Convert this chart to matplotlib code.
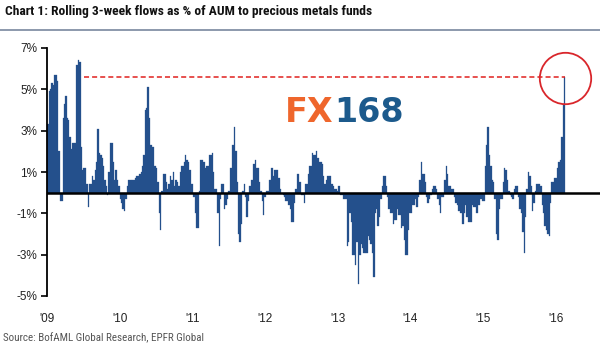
import numpy as np
import pandas as pd
import matplotlib
matplotlib.use('Agg')
import matplotlib.pyplot as plt
from matplotlib import font_manager

# rolling 3-week flows, % of AUM, one value per week
y2009 = [3.3, 4.9, 5.0, 5.3, 5.2, 5.7, 5.7, 5.4, 2.0, -0.4, -0.4, 3.6, 4.3, 4.7, 3.6, 3.5, 2.7, 2.1, 2.4, 2.4,
         2.4, 6.2, 6.4, 6.3, 2.2, 1.1, 1.2, 1.2, 0.4, -0.7, 0.4, 0.4, 0.8, 0.6, 1.1, 1.5, 3.1, 1.9, 1.8, 1.7,
         1.3, 0.6, 0.3, -0.1, 1.0, 2.4, 2.4, 1.5, 0.6, 1.1, 0.6, 0.3]
y2010 = [-0.3, -0.5, -0.8, -0.9, -0.3, 0.3, 0.6, 0.6, 0.6, 0.6, 0.6, 0.7, 0.8, 0.8, 0.9, 1.0, 1.3, 1.8, 4.0, 4.1,
         5.1, 3.6, 2.3, 2.2, 2.2, 1.3, 1.2, 0.5, -1.0, -1.8, 0.1, 0.9, 0.9, 0.5, 0.2, 0.4, 0.8, 0.6, 1.0, 0.3,
         0.6, 0.5, 0.3, 1.0, 1.3, 1.3, 1.5, 1.8, 1.6, 1.5, 1.1, 0.4]
y2011 = [0.4, -0.2, -1.0, -1.7, -1.7, 0.1, 1.6, 1.6, 1.5, 1.2, 1.3, 1.3, 1.8, 1.8, 1.9, 1.0, 0.2, 0.2, -1.0, -2.6,
         -0.3, 0.4, 0.4, -0.8, -0.6, -0.3, 0.1, 1.2, 1.2, 2.3, 3.2, 2.0, 0.5, -2.0, -2.4, -1.5, 0.1, 0.4, -0.2, -1.2,
         -0.4, 0.3, 0.6, 0.6, 1.4, 1.6, 1.2, 1.2, 0.5, 0.1, -0.4, -1.1]
y2012 = [-0.2, 0.1, 0.1, 0.6, 0.6, 1.2, 0.8, 1.1, 1.1, 1.1, 0.7, 0.2, 0.0, -0.1, -0.2, -0.4, -0.4, -0.6, -0.8, -1.4,
         -1.4, -0.5, 0.2, 0.9, 0.9, 0.5, -0.1, -0.1, -0.5, 0.4, 0.4, 0.9, 1.3, 1.3, 1.9, 1.8, 1.8, 2.0, 1.7, 1.5,
         1.5, 1.4, 0.8, 0.4, 0.6, 0.8, 0.8, 0.8, 0.4, 0.3, 0.2, 0.2]
y2013 = [0.1, 0.3, -0.1, -0.1, -0.3, -0.3, -0.3, -2.6, -2.4, -1.0, -1.4, -3.0, -3.0, -3.5, -2.4, -4.4, -3.0, -2.5, -2.7, -2.9,
         -2.9, -2.9, -2.1, -2.3, -2.5, -2.9, -4.1, -1.0, -0.8, -1.6, -1.2, -0.3, 0.3, 0.8, 0.8, 0.3, -0.2, -0.8, -1.0, -1.0,
         -1.5, -1.3, -1.3, -0.8, -1.1, -1.1, -1.7, -1.6, -2.3, -3.0, -3.0, -1.8]
y2014 = [-1.0, -1.0, -0.6, -0.6, -0.3, -0.7, -0.2, 0.6, 1.5, 0.9, 0.9, 0.5, -0.2, -0.5, -0.3, -0.1, 0.2, 0.3, 0.3, 0.2,
         -0.3, -0.6, -1.0, -0.2, -0.2, 0.6, 1.3, 0.9, 0.3, 0.3, 0.2, 0.2, -0.2, -0.5, -0.6, -0.9, -1.0, -1.0, -1.5, -1.0,
         -0.6, -1.2, -1.4, -1.4, -1.4, -0.6, -0.7, -0.7, -1.0, -0.6, -0.6, -0.3]
y2015 = [-0.4, -0.4, 1.3, 2.3, 3.2, 1.8, 1.3, 0.6, 0.5, -0.3, -2.0, -2.3, -0.8, -0.3, -0.3, 0.5, 1.2, 1.1, 0.6, 0.1,
         -0.1, -0.2, -0.3, 0.2, 0.3, 0.3, -0.2, -0.8, -1.0, -1.9, -2.9, -1.2, 0.2, 1.0, 0.8, 0.3, -0.9, -0.5, 0.1, 0.4,
         0.4, 0.4, 0.3, -0.6, -1.0, -1.6, -1.8, -2.0, -2.1, -0.5, 0.5, 0.5]
y2016 = [0.7, 0.7, 1.2, 1.5, 1.6, 2.7, 4.3, 5.6]

flows = y2009 + y2010 + y2011 + y2012 + y2013 + y2014 + y2015 + y2016
weeks = pd.date_range('2009-01-02', periods=len(flows), freq='7D')

year_ticks = pd.date_range('2009-01-01', '2016-01-01', freq='YS')
year_labels = ["'09", "'10", "'11", "'12", "'13", "'14", "'15", "'16"]
y_ticks = [-5, -3, -1, 1, 3, 5, 7]
ref_start = pd.Timestamp('2009-07-05')   # where the red reference line begins

title = 'Chart 1: Rolling 3-week flows as % of AUM to precious metals funds'
source = 'Source: BofAML Global Research, EPFR Global'

W, H = 600, 353


def pick_font(names):
    for n in names:
        try:
            font_manager.findfont(font_manager.FontProperties(family=n), fallback_to_default=False)
            return n
        except Exception:
            pass
    return 'DejaVu Sans'


narrow = pick_font(['Liberation Sans Narrow', 'DejaVu Sans Condensed', 'Roboto Condensed',
                    'Open Sans Condensed', 'Liberation Sans'])

fig = plt.figure(figsize=(W / 100, H / 100), dpi=100)
renderer = fig.canvas.get_renderer()


def fit_text(t, width_px, max_size):
    # shrink a text until it spans width_px
    w = t.get_window_extent(renderer).width
    t.set_fontsize(min(max_size, t.get_fontsize() * width_px / w))


t_title = fig.text(5 / W, 1 - 12 / H, title, ha='left', va='center', fontsize=10.5,
                   fontweight='bold', family=[narrow, 'DejaVu Sans'], color='#111111')
fit_text(t_title, 367, 10.5)
fig.add_artist(plt.Line2D([0, 1], [1 - 29.5 / H, 1 - 29.5 / H], color='#8391a6', lw=1.3))
t_src = fig.text(3 / W, 1 - 338 / H, source, ha='left', va='center', fontsize=8,
                 family=[narrow, 'DejaVu Sans'], color='#555555')
fit_text(t_src, 202, 8)

ax = fig.add_axes([47 / W, 1 - 296 / H, 553 / W, 248 / H])
ax.bar(weeks, flows, width=7, align='edge', color='#24508c', edgecolor='#24508c', linewidth=0.2)
ax.axhline(0, color='black', lw=1.8, zorder=3)

last_x = weeks[-1] + pd.Timedelta(days=3.5)
last_y = flows[-1]
ax.hlines(last_y, ref_start, last_x, colors='#e0201e', linestyles=(0, (3.3, 2.0)), lw=1.1)
ax.plot([last_x], [last_y - 0.05], marker='o', ms=37, mfc='none', mec='#d9262b', mew=1.3, clip_on=False)

ax.set_xlim(pd.Timestamp('2009-01-01'), pd.Timestamp('2016-08-11'))
ax.set_ylim(-5, 7)
ax.set_yticks(y_ticks)
ax.set_yticklabels(['%d%%' % v for v in y_ticks])
ax.set_xticks(year_ticks)
ax.set_xticklabels(year_labels)
ax.tick_params(axis='y', direction='out', length=4, width=1.2, pad=3, labelsize=8.5, labelcolor='#222222')
ax.tick_params(axis='x', length=0, pad=12, labelsize=8.5, labelcolor='#222222')
for lab in ax.get_xticklabels() + ax.get_yticklabels():
    lab.set_family(['Liberation Sans', 'DejaVu Sans'])
for s in ['top', 'right', 'bottom']:
    ax.spines[s].set_visible(False)
ax.spines['left'].set_linewidth(1.3)
ax.spines['left'].set_color('black')

# FX168 watermark: orange FX, blue 168 right after it
t_fx = fig.text(285 / W, 1 - 113 / H, 'FX', ha='left', va='center', fontsize=24,
                fontweight='bold', family='DejaVu Sans', color='#ef662c')
bb = t_fx.get_window_extent(renderer)
fig.text((bb.x1 + 1) / W, 1 - 113 / H, '168', ha='left', va='center', fontsize=24,
         fontweight='bold', family='DejaVu Sans', color='#1c5a8c')

fig.savefig('out.png', dpi=100)
